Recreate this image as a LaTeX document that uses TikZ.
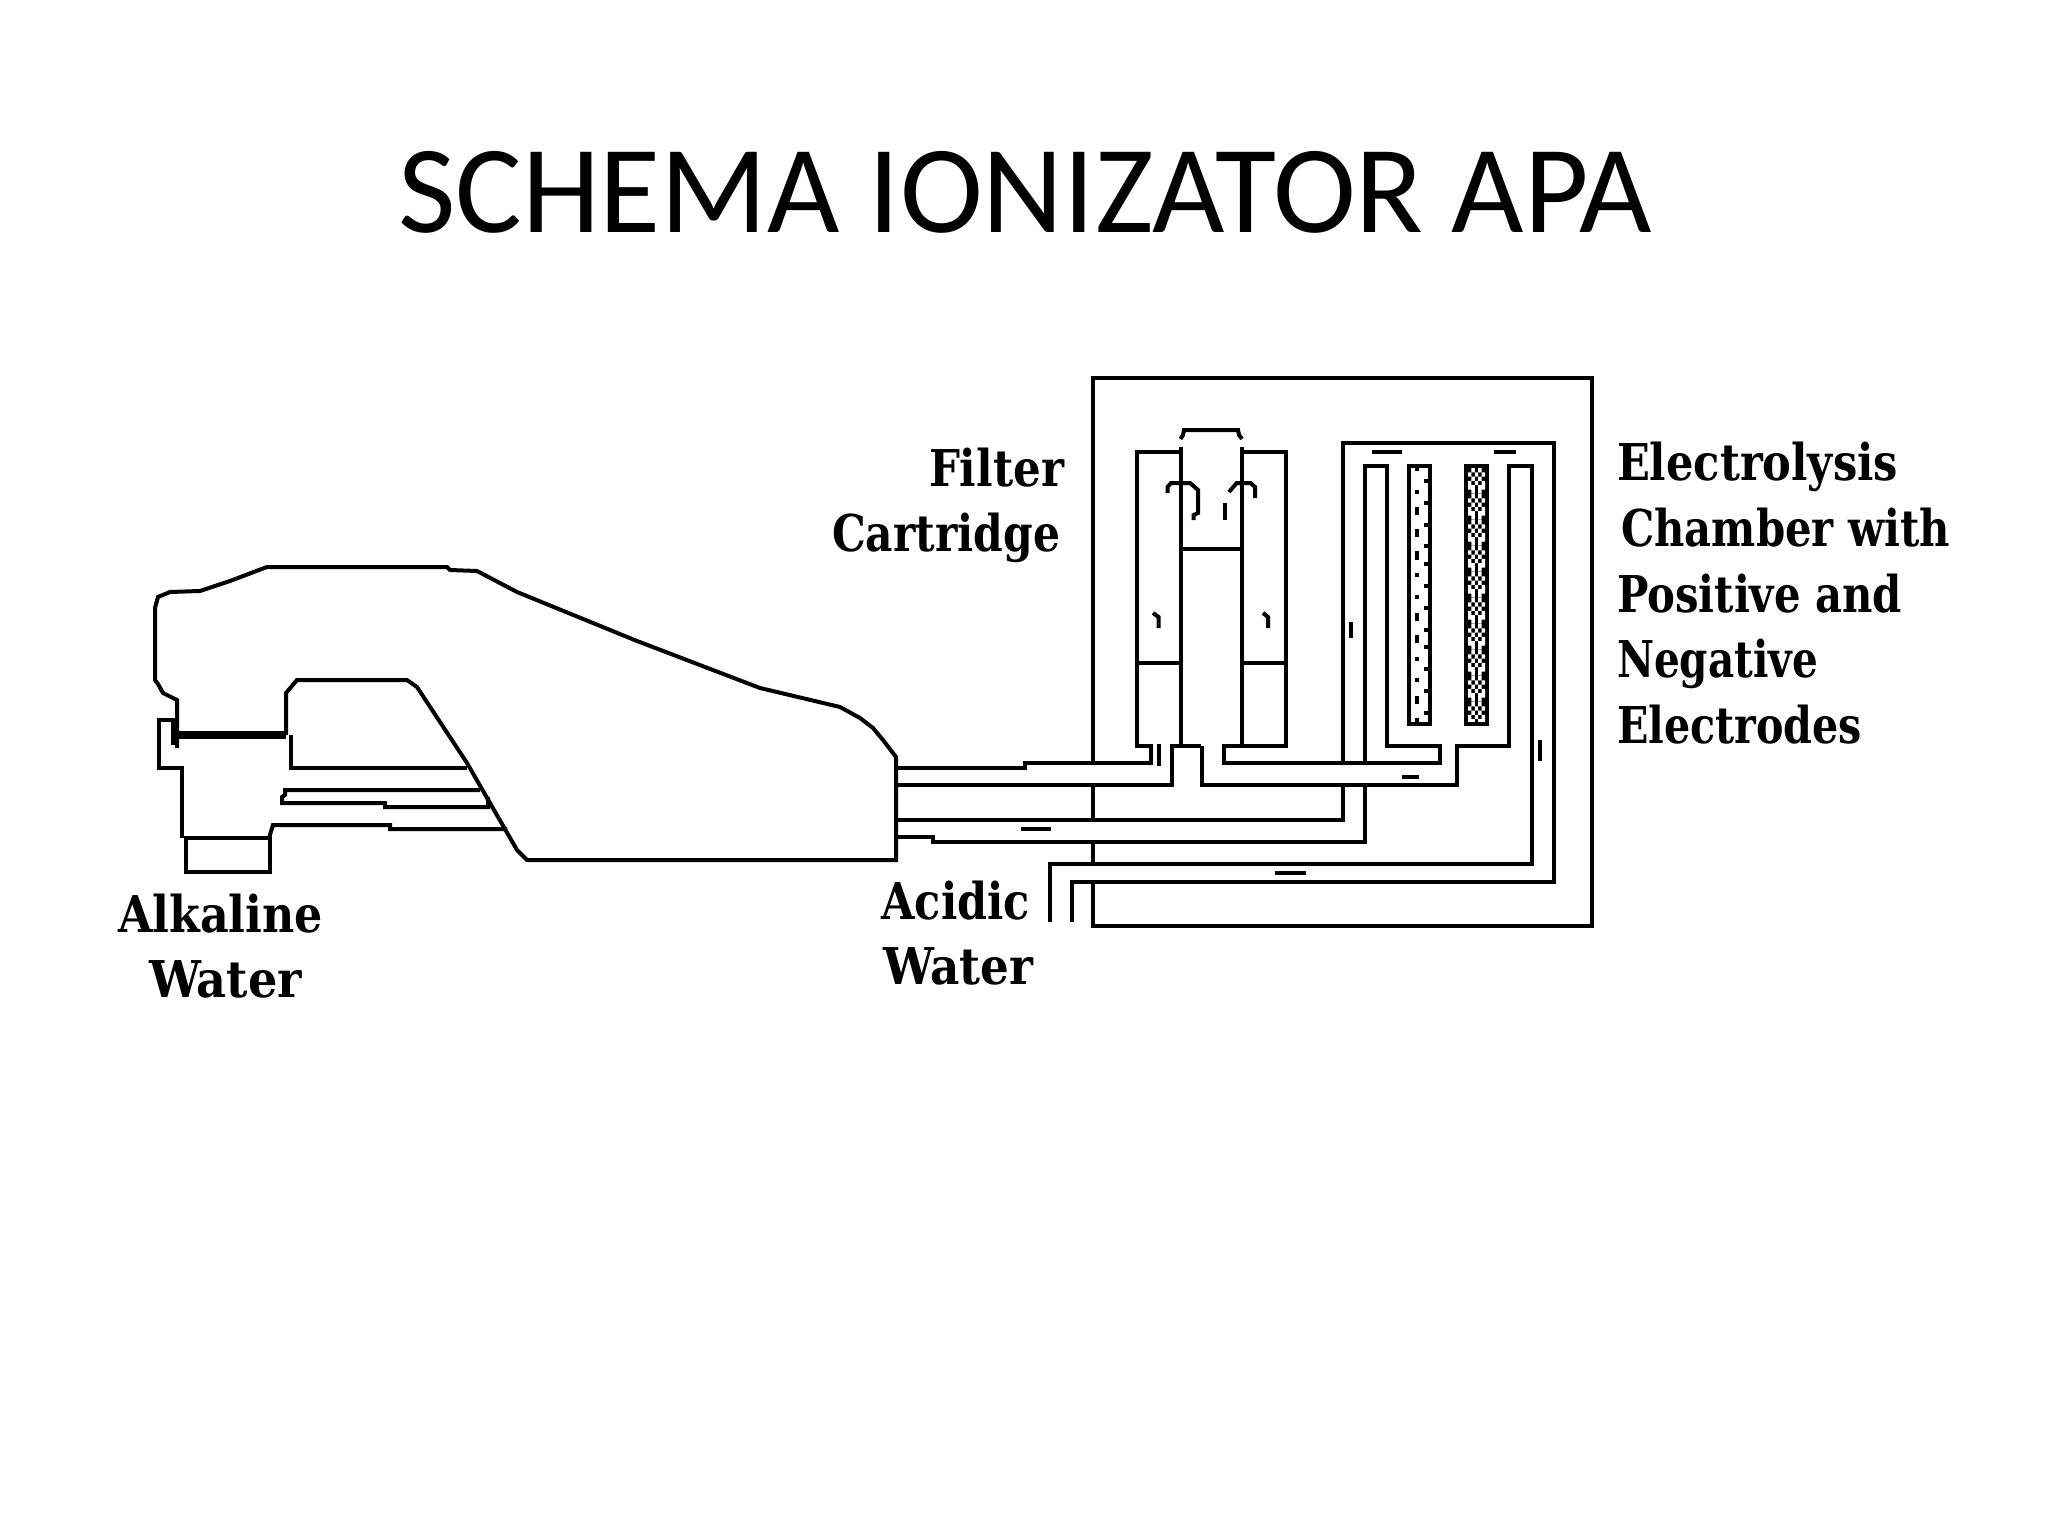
\documentclass[tikz,border=0pt]{standalone}
\usepackage{graphicx}
\usepackage{fontspec}
\newfontfamily\slabfont[Scale=1]{DejaVu Serif}
\newfontfamily\titlefont{Carlito}
\newsavebox\fitb
\newcommand\fitbox[2]{\sbox\fitb{#2}\pgfmathsetmacro\fitf{#1/\wd\fitb}\scalebox{\fitf}[1]{\usebox\fitb}}
\newcommand\slab[5]{\node[lbl] (#1) at (#2,#3) {\fitbox{#4}{\slabfont\bfseries\fontsize{50.7}{60}\selectfont #5}};}
\tikzset{
  lbl/.style={anchor=base west,inner sep=0pt,outer sep=0pt},
  ln/.style={draw=black,line width=4pt,line join=miter},
  dot/.style={line width=4pt,draw=black},
}
\begin{document}
\begin{tikzpicture}[x=1pt,y=-1pt]
\useasboundingbox (0,0) rectangle (2048,1536);
\fill[white] (0,0) rectangle (2048,1536);
% title
\node[lbl] (title) at (398,232) {\fitbox{1254}{\titlefont\fontsize{125}{150}\selectfont SCHEMA IONIZATOR APA}};
% body outline
\draw[ln] (286,735)--(286,693)--(297,680)--(407,680)--(417,687)--(467,763)--(517,850)--(527,860)--(896,860)--(896,757)--(883,740)--(873,728)--(860,718)--(840,707)--(760,688)--(637,641)--(517,592)--(477,571)--(450,570)--(447,567)--(267,567)--(230,581)--(200,591)--(170,592)--(158,597)--(155,608)--(155,680)--(158,684)--(163,693)--(173,698)--(177,700)--(177,748);
\draw[ln] (291,735)--(291,768)--(467,768);
\draw[line width=8pt] (177,735)--(286,735);
\draw[ln] (173,745)--(173,720)--(159,720)--(159,768)--(182,768)--(182,838);
\draw[ln] (186,838) rectangle (269.5,872);
\draw[ln] (269,838)--(273,825)--(390,825)--(390,829)--(507,829);
\draw[ln] (480,790)--(285,790)--(285,795)--(282,797)--(282,803)--(385,803)--(385,807)--(488,807)--(488,797);
% outer box
\draw[ln] (1092.7,763)--(1092.7,377.5)--(1592,377.5)--(1592,926)--(1092.7,926)--(1092.7,882);
\draw[ln] (1092.7,785)--(1092.7,820);
\draw[ln] (1092.7,842)--(1092.7,864);
% filter
\draw[ln] (896,768)--(1025,768)--(1025,763)--(1150.5,763)--(1150.5,746)--(1137,746)--(1137,452)--(1180.5,452);
\draw[ln] (896,785)--(1172,785)--(1172,746)--(1200.5,746);
\draw[ln] (1180.5,746)--(1180.5,447);
\draw[ln] (1242,746)--(1242,447);
\draw[ln] (1180.5,439)--(1183,435)--(1184,430)--(1238,430)--(1239,435)--(1242,439);
\draw[ln] (1180.5,549)--(1242,549);
\draw[ln] (1137,663)--(1180.5,663);
\draw[ln] (1242,663)--(1286,663);
\draw[ln] (1242,452)--(1286,452)--(1286,746)--(1224,746)--(1224,763)--(1440,763)--(1440,746)--(1386.7,746)--(1386.7,466)--(1365,466)--(1365,763);
% arrows in filter
\draw[ln] (1167.5,493)--(1167.5,487)--(1171,483)--(1190,483)--(1198,490)--(1198,513)--(1193.6,515)--(1193.6,520);
\draw[ln] (1255,498)--(1255,487)--(1250.5,483)--(1236.7,483)--(1229,492);
\draw[ln] (1224.6,503)--(1224.6,520);
\draw[ln] (1158.5,628)--(1158.5,617)--(1153,613);
\draw[ln] (1268,628)--(1268,617)--(1263,613);
% pipes
\draw[ln] (1202,746)--(1202,785)--(1457,785)--(1457,746)--(1509,746)--(1509,466)--(1532,466)--(1532,864)--(1050,864)--(1050,922);
\draw[ln] (1343,763)--(1343,443)--(1553.5,443)--(1553.5,882)--(1071.5,882)--(1071.5,922);
\draw[ln] (1343,785)--(1343,820)--(897,820);
\draw[ln] (1365,785)--(1365,842)--(933,842)--(933,837)--(897,837);
% ticks
\draw[ln] (1158.5,744)--(1158.5,766);
\draw[ln] (1351,622)--(1351,638);
\draw[ln] (1540,740)--(1540,761);
\draw[ln] (1402,777)--(1419,777);
\draw[ln] (1020.6,829)--(1051,829);
\draw[ln] (1275,873)--(1305.6,873);
\draw[ln] (1371.5,452)--(1402,452);
\draw[ln] (1494,452)--(1515.7,452);
% electrode 1
\draw[ln] (1409,466) rectangle (1430,724);
\foreach \a/\b in {465/471,490/493.5,507/515,529/537,551/559.5,573/577,595/598.5,613/621,634.5/643,657/660.5,678/682,696/704,718/723}
  \draw[dot] (1417,\a)--(1417,\b);
\foreach \a in {478.5,500.5,522.5,544,561.5,584,605.5,627.5,645,666.5,688.5,710.5}
  \draw[dot] (1426,\a)--(1426,\a+4);
% electrode 2
\fill[black] (1464,464) rectangle (1489,726);
\foreach \k in {0,...,9}{
  \begin{scope}[yshift=-\k*26pt]
  \fill[white]
    (1471.4,468) rectangle ++(3.4,4.3)
    (1478.2,468) rectangle ++(3.4,4.3)
    (1468,472.3) rectangle ++(3.4,4.3)
    (1474.8,472.3) rectangle ++(3.4,4.3)
    (1481.6,472.3) rectangle ++(3.4,4.3)
    (1471.4,476.6) rectangle ++(3.4,4.3)
    (1478.2,476.6) rectangle ++(3.4,4.3)
    (1468,480.9) rectangle ++(3.4,4.3)
    (1474.8,480.9) rectangle ++(3.4,4.3)
    (1481.6,480.9) rectangle ++(3.4,4.3)
    (1468,485.2) rectangle ++(6.8,4.3)
    (1478.2,485.2) rectangle ++(6.8,4.3)
    (1471.4,489.5) rectangle ++(3.4,4)
    (1478.2,489.5) rectangle ++(3.4,4);
  \end{scope}
}
\fill[black] (1464,722) rectangle (1489,726);
% labels
\slab{l1}{1617}{480}{281}{Electrolysis}
\slab{l2}{1621}{546}{329}{Chamber with}
\slab{l3}{1617}{612}{285}{Positive and}
\slab{l4}{1617}{677}{201}{Negative}
\slab{l5}{1617}{743}{245}{Electrodes}
\slab{l6}{929}{486}{135}{Filter}
\slab{l7}{832}{551}{228}{Cartridge}
\slab{l8}{118}{932}{205}{Alkaline}
\slab{l9}{149}{997}{153}{Water}
\slab{l10}{881.5}{919}{148.5}{Acidic}
\slab{l11}{883}{984}{150}{Water}
\end{tikzpicture}
\end{document}
